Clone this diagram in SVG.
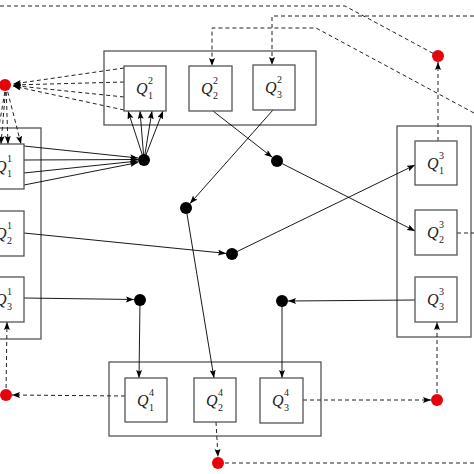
<svg xmlns="http://www.w3.org/2000/svg" width="474" height="474" viewBox="0 0 474 474">
<defs>
<marker id="ah" markerUnits="userSpaceOnUse" markerWidth="9" markerHeight="7" refX="8" refY="3" orient="auto">
<path d="M0,0 L8,3 L0,6 L1.5,3 z" fill="#000"/>
</marker>
<style>
.cont{fill:none;stroke:#555;stroke-width:1.3}
.box{fill:#fff;stroke:#555;stroke-width:1.3}
.sol{fill:none;stroke:#000;stroke-width:0.9}
.das{fill:none;stroke:#222;stroke-width:1;stroke-dasharray:4 3}
.arr{marker-end:url(#ah)}
.red{fill:#e8000b}
.blk{fill:#000}
.q{font-family:"Liberation Serif",serif;font-style:italic;font-size:16px;fill:#222}
.n{font-family:"Liberation Serif",serif;font-size:10px;fill:#222}
</style>
</defs>
<rect width="474" height="474" fill="#fff"/>

<g id="containers">
<rect class="cont" x="104" y="51" width="212" height="74"/>
<rect class="cont" x="-20" y="128" width="61" height="211"/>
<rect class="cont" x="397" y="126" width="74" height="211"/>
<rect class="cont" x="109" y="362" width="212" height="74"/>
</g>

<g id="connectors">
<!-- Q1_1 to D1 -->
<line class="sol arr" x1="24" y1="146" x2="138" y2="158"/>
<line class="sol arr" x1="24" y1="160" x2="138" y2="159.5"/>
<line class="sol arr" x1="24" y1="173" x2="138" y2="161"/>
<line class="sol arr" x1="24" y1="185" x2="138" y2="162.5"/>
<!-- D1 to Q2_1 -->
<line class="sol arr" x1="144" y1="160" x2="128" y2="111"/>
<line class="sol arr" x1="144" y1="160" x2="140" y2="111"/>
<line class="sol arr" x1="144" y1="160" x2="152" y2="111"/>
<line class="sol arr" x1="144" y1="160" x2="163" y2="111"/>
<!-- others -->
<line class="sol arr" x1="213" y1="111" x2="272.3" y2="157.3"/>
<line class="sol arr" x1="273" y1="110" x2="190" y2="203.5"/>
<line class="sol arr" x1="277" y1="161" x2="415" y2="231"/>
<line class="sol arr" x1="186" y1="208" x2="214" y2="378"/>
<line class="sol arr" x1="24" y1="233" x2="226" y2="253.4"/>
<line class="sol arr" x1="232" y1="254" x2="415" y2="165"/>
<line class="sol arr" x1="24" y1="298" x2="134" y2="299.5"/>
<line class="sol arr" x1="140" y1="300" x2="139" y2="378"/>
<line class="sol arr" x1="415" y1="300" x2="288" y2="301"/>
<line class="sol arr" x1="282" y1="301" x2="282" y2="378"/>

<!-- dashed -->
<line class="das arr" x1="124" y1="68" x2="13" y2="84"/>
<line class="das arr" x1="124" y1="82" x2="13" y2="85"/>
<line class="das arr" x1="124" y1="97" x2="13" y2="85.5"/>
<line class="das arr" x1="124" y1="110" x2="13" y2="86"/>
<line class="das arr" x1="6" y1="85" x2="-4" y2="144"/>
<line class="das arr" x1="6" y1="85" x2="1" y2="144"/>
<line class="das arr" x1="6" y1="85" x2="8" y2="144"/>
<line class="das arr" x1="6" y1="85" x2="21" y2="144"/>
<line class="das arr" x1="125" y1="396" x2="12" y2="395"/>
<line class="das arr" x1="6" y1="395" x2="7" y2="322"/>
<line class="das arr" x1="216" y1="422" x2="218" y2="457"/>
<line class="das" x1="218" y1="463" x2="474" y2="463"/>
<line class="das arr" x1="303" y1="400" x2="431" y2="400"/>
<line class="das arr" x1="437" y1="400" x2="437" y2="322"/>
<line class="das arr" x1="438" y1="141" x2="438" y2="62"/>
<line class="das" x1="457" y1="233" x2="474" y2="233"/>
<polyline class="das" points="0,6 345,6 438,56"/>
<polyline class="das arr" points="474,16 272,16 272,65"/>
<polyline class="das arr" points="474,113 316,28 212,28 212,66"/>
</g>

<g id="Q2_1"><rect class="box" x="124" y="66" width="42" height="45"/><text class="q" x="136" y="94">Q</text><text class="n" x="148" y="84">2</text><text class="n" x="148" y="99">1</text></g>
<g id="Q2_2"><rect class="box" x="189" y="66" width="43" height="45"/><text class="q" x="201" y="94">Q</text><text class="n" x="213" y="84">2</text><text class="n" x="213" y="99">2</text></g>
<g id="Q2_3"><rect class="box" x="253" y="65" width="42" height="45"/><text class="q" x="265" y="93">Q</text><text class="n" x="277" y="83">2</text><text class="n" x="277" y="98">3</text></g>

<g id="Q1_1"><rect class="box" x="-18" y="144" width="42" height="45"/><text class="q" x="-5" y="172">Q</text><text class="n" x="7" y="162">1</text><text class="n" x="7" y="177">1</text></g>
<g id="Q1_2"><rect class="box" x="-18" y="211" width="42" height="45"/><text class="q" x="-5" y="239">Q</text><text class="n" x="7" y="229">1</text><text class="n" x="7" y="244">2</text></g>
<g id="Q1_3"><rect class="box" x="-18" y="277" width="42" height="45"/><text class="q" x="-5" y="305">Q</text><text class="n" x="7" y="295">1</text><text class="n" x="7" y="310">3</text></g>

<g id="Q3_1"><rect class="box" x="415" y="141" width="42" height="44"/><text class="q" x="427" y="169">Q</text><text class="n" x="439" y="159">3</text><text class="n" x="439" y="174">1</text></g>
<g id="Q3_2"><rect class="box" x="415" y="210" width="42" height="45"/><text class="q" x="427" y="238">Q</text><text class="n" x="439" y="228">3</text><text class="n" x="439" y="243">2</text></g>
<g id="Q3_3"><rect class="box" x="415" y="277" width="42" height="45"/><text class="q" x="427" y="305">Q</text><text class="n" x="439" y="295">3</text><text class="n" x="439" y="310">3</text></g>

<g id="Q4_1"><rect class="box" x="125" y="378" width="42" height="44"/><text class="q" x="137" y="406">Q</text><text class="n" x="149" y="396">4</text><text class="n" x="149" y="411">1</text></g>
<g id="Q4_2"><rect class="box" x="194" y="378" width="42" height="44"/><text class="q" x="206" y="406">Q</text><text class="n" x="218" y="396">4</text><text class="n" x="218" y="411">2</text></g>
<g id="Q4_3"><rect class="box" x="260" y="378" width="43" height="45"/><text class="q" x="272" y="406">Q</text><text class="n" x="284" y="396">4</text><text class="n" x="284" y="411">3</text></g>

<g id="dots">
<circle id="D1" class="blk" cx="144" cy="160" r="6"/>
<circle id="D2" class="blk" cx="277" cy="161" r="6"/>
<circle id="D3" class="blk" cx="186" cy="208" r="6"/>
<circle id="D4" class="blk" cx="232" cy="254" r="6"/>
<circle id="D5" class="blk" cx="140" cy="300" r="6"/>
<circle id="D6" class="blk" cx="282" cy="301" r="6"/>
<circle id="R1" class="red" cx="5" cy="85" r="6"/>
<circle id="R2" class="red" cx="438" cy="56" r="6"/>
<circle id="R3" class="red" cx="6" cy="395" r="6"/>
<circle id="R4" class="red" cx="437" cy="400" r="6"/>
<circle id="R5" class="red" cx="218" cy="463" r="6"/>
</g>
</svg>
